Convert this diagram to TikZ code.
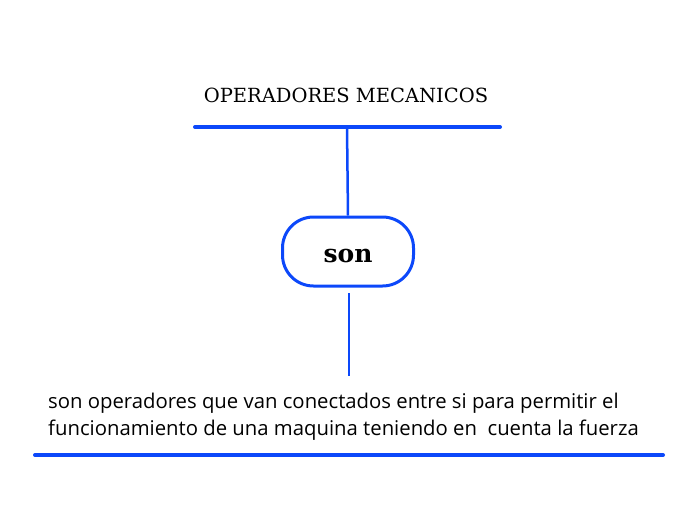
\documentclass[tikz,border=0pt]{standalone}
\usepackage{fontspec}
\setmainfont{DejaVu Serif}
\newfontfamily\bodyfont{Open Sans}
\definecolor{mmblue}{RGB}{12,72,250}
\begin{document}
\begin{tikzpicture}[x=1pt,y=-1pt,
  bar/.style={draw=mmblue,line width=4pt,line cap=round},
  link/.style={draw=mmblue,line width=2.5pt},
  thinlink/.style={draw=mmblue,line width=1.3pt},
  pill/.style={draw=mmblue,line width=3pt,rounded corners=31pt,minimum width=131pt,minimum height=69pt,inner sep=0pt,text height=21pt,text depth=0pt,font=\bfseries\fontsize{25}{28}\selectfont}]
\useasboundingbox (0,0) rectangle (696,520);
\node[font=\fontsize{19.5}{22}\selectfont] (title) at (346,95) {OPERADORES MECANICOS};
\coordinate (tl) at (195,127);
\coordinate (tr) at (500,127);
\draw[bar] (tl) -- (tr);
\coordinate (tj) at (347,127);
\node[pill] (son) at (348,251.5) {son};
\draw[link] (tj) -- (son.north);
\coordinate (lt) at (349,293);
\coordinate (lb) at (349,376);
\draw[thinlink] (lt) -- (lb);
\node[anchor=base west,align=left,inner sep=0pt,font=\bodyfont\fontsize{20.3}{27}\selectfont] (desc) at (48,435) {son operadores que van conectados entre si para permitir el\\funcionamiento de una maquina teniendo en \ cuenta la fuerza};
\coordinate (bl) at (35,455);
\coordinate (br) at (663,455);
\draw[bar] (bl) -- (br);
\end{tikzpicture}
\end{document}
